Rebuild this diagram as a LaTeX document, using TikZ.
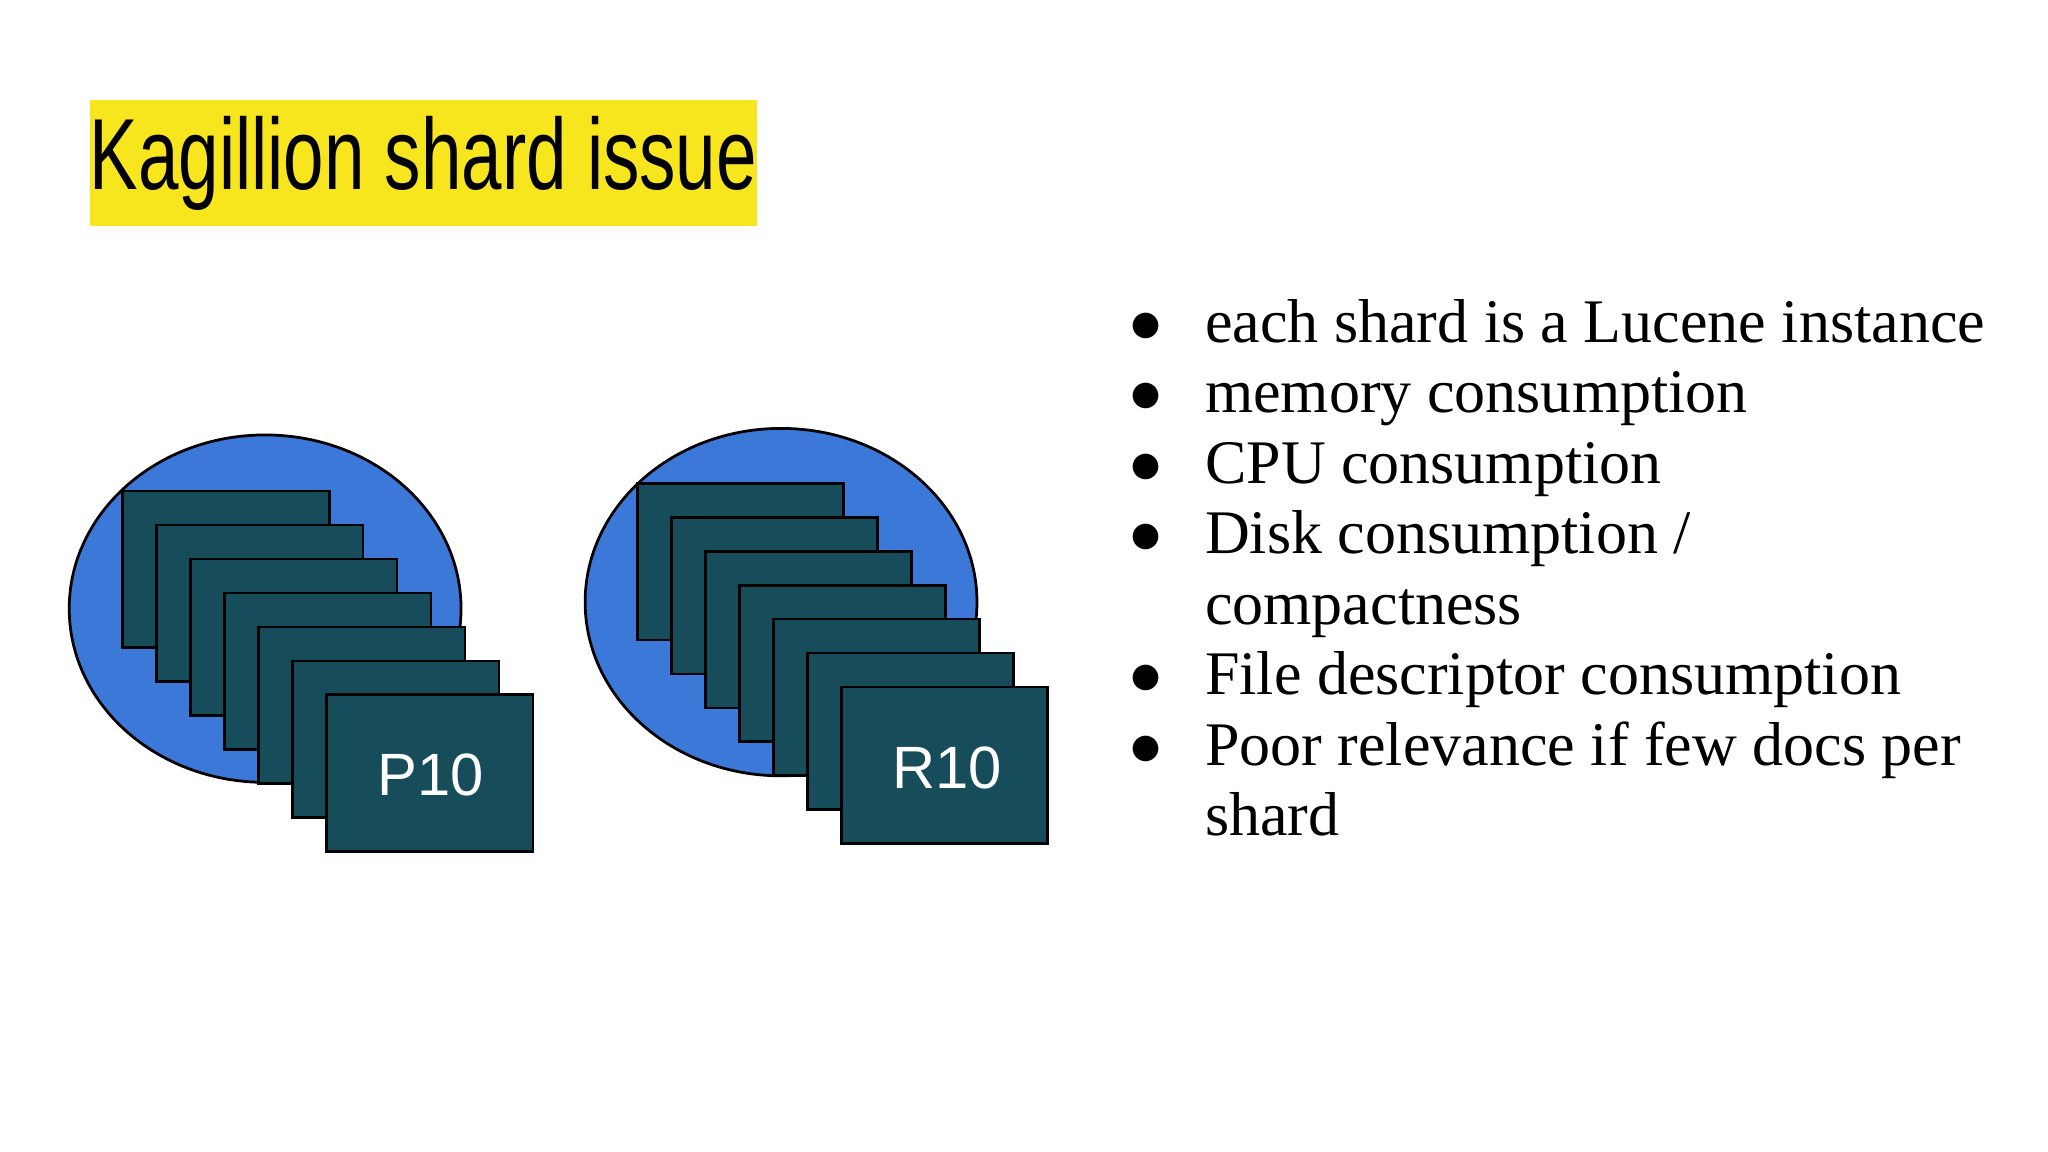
\documentclass[tikz,border=0pt]{standalone}
\usepackage{fontspec}
\setmainfont{Liberation Serif}
\newfontfamily\titlefont[FakeStretch=0.72]{Liberation Sans}
\newfontfamily\labfont{Liberation Sans}
\definecolor{shard}{HTML}{174C5A}
\definecolor{disk}{HTML}{3C78D8}
\definecolor{ttl}{HTML}{F7E51E}
\begin{document}
\begin{tikzpicture}[x=0.01cm,y=-0.01cm,
  sh/.style={draw=black,fill=shard,line width=0.6pt},
  dk/.style={draw=black,fill=disk,line width=0.6pt},
  bl/.style={anchor=base west,font=\fontsize{13.5}{16}\selectfont,inner sep=0}]
\useasboundingbox (0,0) rectangle (1568,882);
\fill[white] (0,0) rectangle (1568,882);
\node[fill=ttl,minimum width=4.86cm,minimum height=0.96cm,anchor=north west,inner sep=0,font=\titlefont\fontsize{22}{26}\selectfont] (title) at (68,76) {Kagillion shard issue};
\draw[dk] (203,466) ellipse [x radius=150,y radius=-133];
\foreach \i in {0,...,6}{\draw[sh] (94+26*\i,376+26*\i) rectangle ++(158,120);}
\node[text=white,font=\labfont\fontsize{13}{15}\selectfont] (p) at (330,593) {P10};
\draw[dk] (598,461) ellipse [x radius=150,y radius=-133];
\foreach \i in {0,...,6}{\draw[sh] (488+26*\i,370+26*\i) rectangle ++(158,120);}
\node[text=white,font=\labfont\fontsize{13}{15}\selectfont] (r) at (725,588) {R10};
\foreach \y/\t in {262/{each shard is a Lucene instance},316/{memory consumption},370/{CPU consumption},424/{Disk consumption /},532/{File descriptor consumption},586/{Poor relevance if few docs per}}{
  \node[bl] at (864,\y) {$\bullet$};
  \node[bl] at (922,\y) {\t};}
\node[bl] (c1) at (922,478) {compactness};
\node[bl] (c2) at (922,640) {shard};
\end{tikzpicture}
\end{document}
